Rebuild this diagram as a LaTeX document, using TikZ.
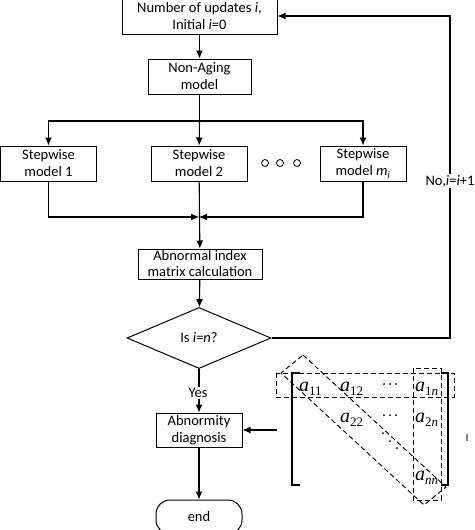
\documentclass[tikz,border=0pt]{standalone}
\usepackage{fontspec}
\setmainfont{Carlito}
\newfontfamily\tms{Liberation Serif}
\usetikzlibrary{arrows.meta,shapes.geometric,calc}
\newcommand\ent[1]{{\tms\fontsize{20}{20}\selectfont\itshape a}\raisebox{-4pt}{\tms\fontsize{13}{13}\selectfont #1}}
\tikzset{
  txt/.style={font=\fontsize{14.5}{17}\selectfont},
  box/.style={draw, line width=1pt, minimum width=#1, minimum height=35, inner sep=0pt, align=center, txt},
  arr/.style={-{Latex[length=8pt,width=7pt]}, line width=1.1pt},
  ln/.style={line width=1.1pt},
  dsh/.style={dash pattern=on 5pt off 3pt, line width=0.9pt},
  brk/.style={line width=1.2pt},
  dotc/.style={circle, draw, line width=0.8pt, minimum size=7pt, inner sep=0pt},
  lbl/.style={fill=white, inner sep=1pt, txt},
  entn/.style={inner sep=0pt, anchor=base west}
}
\begin{document}
\begin{tikzpicture}[x=1pt,y=-1pt]
\useasboundingbox (0,0) rectangle (474,530);
% flowchart nodes
\node[box=155, minimum height=37] (top) at (199.5,16) {Number of updates \textit{i},\\Initial \textit{i}=0};
\node[box=103] (na) at (199.5,76.5) {Non-Aging\\model};
\node[box=96] (s1) at (48.5,163.5) {Stepwise\\model 1};
\node[box=96] (s2) at (199,163.5) {Stepwise\\model 2};
\node[box=86] (s3) at (363,163.5) {Stepwise\\model \textit{m}\textsubscript{\textit{i}}};
\node[dotc] (c1) at (265,163) {};
\node[dotc] (c2) at (280,163) {};
\node[dotc] (c3) at (297,163) {};
\node[box=124, minimum height=30, font=\fontsize{14.5}{16}\selectfont] (ab) at (200,264) {Abnormal index\\matrix calculation};
\node[draw, diamond, line width=1pt, minimum width=144, minimum height=61, inner sep=0pt, txt] (dia) at (199,338) {Is \textit{i}=\textit{n}?};
\node[box=86, minimum height=34] (dg) at (199,430) {Abnormity\\diagnosis};
\node[box=86, minimum height=34, rounded corners=14pt] (end) at (199,517) {end};
% connectors
\coordinate (j1) at (199.5,121);
\coordinate (j2) at (199,217);
\coordinate (fb) at (450,338);
\coordinate (mtx) at (277,430);
\draw[arr] (top) -- (na);
\draw[ln] (na) -- (j1);
\draw[arr] (j1) -| (s1);
\draw[arr] (j1) -| (s3);
\draw[arr] (j1) -- (s2);
\draw[arr] (s1) |- (j2);
\draw[arr] (s3) |- (j2);
\draw[arr] (s2) -- (ab);
\draw[arr] (ab) -- (dia);
\draw[arr] (dia.east) -- (fb) |- (top.east);
\node[lbl] (no) at (450,181) {No,\textit{i}=\textit{i}+1};
\draw[arr] (dia.south) -- (dg.north);
\node[lbl] (yes) at (198,393) {Yes};
\draw[arr] (mtx) -- (dg.east);
\draw[arr] (dg) -- (end);
% matrix
\draw[brk] (300,373) -- (292,373) -- (292,485) -- (300,485);
\draw[brk] (441,373) -- (448,373) -- (448,485) -- (441,485);
\draw[dsh] (276,373) rectangle (454,397);
\draw[dsh] (413,368) rectangle (441,500);
\draw[dsh] (303,355) -- (446,487) -- (424,505) -- (281,373) -- cycle;
\node[entn] (a11) at (299,391) {\ent{11}};
\node[entn] (a12) at (340,391) {\ent{12}};
\node[entn] (a1n) at (415,391) {\ent{1\textit{n}}};
\node[entn] (a22) at (340,422) {\ent{22}};
\node[entn] (a2n) at (415,422) {\ent{2\textit{n}}};
\node[entn] (ann) at (415,480) {\ent{\textit{nn}}};
\foreach \yy in {384, 415} {
  \foreach \xx in {384, 390, 396} {
    \fill (\xx,\yy) circle (1pt);
  }
}
\fill (383,433) circle (1pt);
\fill (390,441) circle (1pt);
\fill (397,448) circle (1pt);
\draw[line width=1.5pt, gray] (467,434) -- (467,441);
\end{tikzpicture}
\end{document}
